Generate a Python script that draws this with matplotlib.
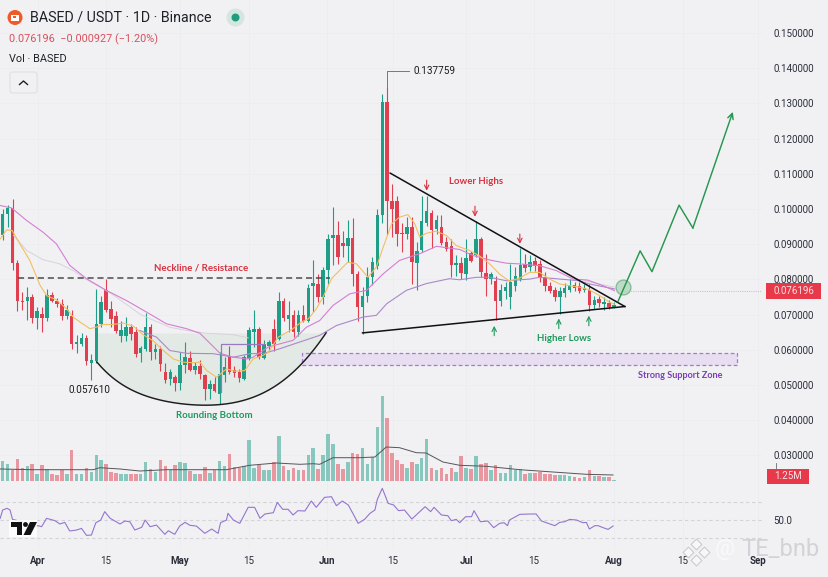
import numpy as np
import matplotlib
matplotlib.use("Agg")
import matplotlib.pyplot as plt
from matplotlib.patches import Rectangle, Circle, FancyBboxPatch, Polygon

plt.rcParams['font.family'] = ['Roboto', 'DejaVu Sans']

# daily candles (index 0 is the first candle on the left)
highs = [.1000,.1010,.1029,.0854,.0764,.0778,.0759,.0723,.0723,.0773,
         .0764,.0748,.0745,.0726,.0712,.0643,.0647,.0643,.0589,.0773,
         .0754,.0802,.0740,.0710,.0683,.0693,.0674,.0664,.0612,.0704,
         .0672,.0617,.0612,.0562,.0546,.0527,.0593,.0622,.0596,.0565,
         .0570,.0532,.0513,.0522,.0593,.0579,.0612,.0555,.0546,.0584,
         .0664,.0712,.0664,.0627,.0628,.0688,.0764,.0748,.0738,.0712,
         .0712,.0726,.0786,.0854,.0816,.0835,.0930,.1007,.0966,.0937,
         .0969,.0975,.0823,.0778,.0835,.0863,.1001,.1327,.1346,.1070,
         .1038,.0960,.0977,.0977,.0906,.1038,.1038,.0998,.0984,.0984,
         .0920,.0915,.0868,.0865,.0915,.0882,.0967,.0920,.0872,.0820,
         .0811,.0787,.0792,.0844,.0834,.0889,.0872,.0868,.0865,.0855,
         .0820,.0792,.0778,.0778,.0789,.0801,.0792,.0792,.0787,.0787,
         .0754,.0754,.0751,.0742,.0735]
lows = [.0911,.0948,.0827,.0710,.0712,.0685,.0676,.0660,.0650,.0683,
        .0735,.0721,.0685,.0688,.0603,.0590,.0612,.0558,.0515,.0562,
        .0664,.0707,.0664,.0647,.0622,.0625,.0628,.0579,.0565,.0598,
        .0570,.0574,.0541,.0505,.0501,.0483,.0486,.0534,.0539,.0532,
        .0518,.0456,.0461,.0480,.0445,.0508,.0532,.0522,.0508,.0513,
        .0570,.0608,.0574,.0573,.0598,.0596,.0627,.0683,.0650,.0636,
        .0638,.0679,.0679,.0707,.0735,.0731,.0788,.0840,.0844,.0863,
        .0849,.0780,.0683,.0645,.0735,.0783,.0830,.0960,.0925,.0920,
        .0896,.0877,.0915,.0788,.0769,.0877,.0953,.0890,.0930,.0899,
        .0882,.0808,.0811,.0801,.0798,.0849,.0865,.0808,.0754,.0787,
        .0685,.0725,.0744,.0716,.0768,.0796,.0820,.0825,.0825,.0792,
        .0768,.0761,.0738,.0702,.0751,.0763,.0768,.0761,.0763,.0711,
        .0716,.0723,.0713,.0716,.0719]
opens = [.0925,.0986,.1003,.0846,.0740,.0738,.0751,.0690,.0702,.0689,
         .0757,.0740,.0731,.0697,.0697,.0617,.0617,.0634,.0562,.0568,
         .0672,.0769,.0716,.0695,.0638,.0638,.0664,.0650,.0590,.0603,
         .0664,.0593,.0603,.0536,.0518,.0522,.0505,.0557,.0577,.0543,
         .0553,.0527,.0489,.0503,.0475,.0527,.0581,.0543,.0536,.0518,
         .0574,.0650,.0660,.0577,.0612,.0660,.0631,.0738,.0688,.0698,
         .0650,.0700,.0683,.0780,.0786,.0750,.0827,.0918,.0925,.0903,
         .0895,.0918,.0816,.0721,.0752,.0806,.0837,.0984,.1304,.1024,
         .1024,.0931,.0928,.0950,.0846,.0884,.0960,.0988,.0944,.0949,
         .0906,.0894,.0841,.0846,.0815,.0874,.0868,.0915,.0817,.0801,
         .0796,.0738,.0766,.0749,.0782,.0801,.0844,.0834,.0851,.0844,
         .0806,.0782,.0770,.0749,.0762,.0770,.0785,.0782,.0770,.0770,
         .0728,.0744,.0730,.0732,.0723]
closes = [.0986,.1003,.0846,.0738,.0736,.0751,.0690,.0710,.0690,.0757,
          .0740,.0729,.0697,.0712,.0617,.0623,.0634,.0568,.0570,.0672,
          .0735,.0712,.0688,.0653,.0655,.0664,.0645,.0589,.0606,.0664,
          .0593,.0603,.0560,.0515,.0536,.0505,.0557,.0579,.0543,.0553,
          .0530,.0489,.0503,.0484,.0530,.0551,.0536,.0534,.0520,.0579,
          .0655,.0660,.0579,.0617,.0622,.0617,.0738,.0691,.0698,.0650,
          .0700,.0683,.0776,.0789,.0750,.0827,.0915,.0925,.0865,.0895,
          .0918,.0816,.0721,.0754,.0806,.0849,.0984,.1304,.1024,.1001,
          .0928,.0928,.0950,.0849,.0882,.0966,.0994,.0939,.0969,.0903,
          .0887,.0842,.0848,.0817,.0861,.0851,.0915,.0820,.0801,.0814,
          .0740,.0770,.0778,.0792,.0811,.0842,.0832,.0849,.0838,.0806,
          .0782,.0768,.0749,.0766,.0776,.0785,.0776,.0768,.0776,.0728,
          .0742,.0732,.0735,.0721,.0728]
volumes = [19.7,16.7,10.7,22.3,13.3,14.7,16.7,7.3,15.7,12.3,
           7.3,5.7,10.7,7.3,31.3,7.3,6.7,13,9,26.3,
           21.3,17.3,9,8,7.3,6.7,7.3,7.3,7.3,19,
           12.3,9,21.3,14.7,10.7,16,19.3,18,9.7,6.7,
           6.7,14,8,11.3,20,14.7,27.3,14,13.3,14.7,
           40.7,13.3,16,11.3,10.7,18.7,45,14.7,11.3,12.7,
           10.7,10.7,25.7,33.3,12,25.7,46.7,37.3,17.3,12.3,
           19,28.3,26.7,33.3,17.3,24,54,85,63.3,28,
           21.3,16.7,13.3,19.3,17.3,23,41.7,13.3,11.3,12.7,
           7.3,12.7,9,25.3,13.3,12,25,16.7,18,10.7,
           16,8,8,16.3,10.7,12.3,7.3,8,8,8.7,
           6.7,6.7,5.7,6.3,5.7,5,4,3.3,4,10.7,
           4.7,4.7,3.7,3.7,1.25]

# moving averages, read at irregular candle positions
fast_x = [-.5,.8,1.9,3.5,5.5,7.6,8.9,10.9,13,14.3,16,17.7,18.9,20.4,22.4,24.5,26.5,28.5,30.5,32.6,34.6,36.6,38.6,40,41.4,43.4,45.4,47.1,49.1,50.8,52.8,53.9,55.9,58.6,60.6,62,63.6,65,66.7,70,71.8,74.1,75.8,77.2,78.9,80.5,82.2,83.6,84.6,85.9,87.9,90,92,94.7,96.6,98.8,100.8,102.8,104.9,106.9,108.9,110.9,113,115,117,119,121.1,123.1,124.1]
fast_y = [.0915,.0941,.0939,.0901,.0854,.0783,.0754,.0742,.0716,.0693,.0676,.0660,.0664,.0672,.0672,.0676,.0667,.0643,.0626,.0598,.0574,.0565,.0563,.0565,.0541,.0522,.0546,.0539,.0541,.0574,.0584,.0593,.0636,.0657,.0679,.0688,.0716,.0750,.0802,.0849,.0844,.0806,.0835,.0892,.0958,.0977,.0984,.0958,.0920,.0931,.0937,.0925,.0896,.0882,.0868,.0844,.0815,.0795,.0804,.0820,.0820,.0801,.0787,.0782,.0778,.0770,.0754,.0735,.0730]
mid_x = [-.5,1.8,4.9,8.2,10.9,13.6,17,21,25.1,29.2,33.2,37.3,40,44.1,46.8,49.5,50.8,53.9,58.9,61.6,64.3,67,70.4,73.8,77.2,80.5,84.6,88,92.7,95.4,98.8,102.2,104.9,108.9,112.3,115.7,118.7,121.8,124.1]
mid_y = [.1010,.1003,.0967,.0934,.0901,.0840,.0802,.0769,.0740,.0707,.0674,.0660,.0647,.0590,.0579,.0574,.0579,.0608,.0627,.0664,.0683,.0726,.0759,.0769,.0816,.0854,.0873,.0894,.0885,.0868,.0855,.0846,.0844,.0839,.0825,.0801,.0798,.0782,.0768]
slow_x = [27.8,31.2,33.9,37.3,42.7,46.8,50.1,53,56,59.6,64.3,67.7,73.1,75.8,77.9,81.9,85.9,90.6,92.7,96.1,98.8,102.2,106.9,108.9,113,117,119,124.1]
slow_y = [.0655,.0636,.0598,.0590,.0589,.0579,.0589,.0590,.0602,.0619,.0641,.0669,.0693,.0698,.0731,.0769,.0788,.0802,.0799,.0806,.0806,.0796,.0801,.0806,.0801,.0796,.0787,.0773]
pale_x = [2.2,4.9,8.2,11.6,14.3,16.7,22,28,33.9,37.3,41.4,46.8,49.8,np.nan,118,124]
pale_y = [.0925,.0882,.0856,.0844,.0825,.0802,.0760,.0700,.0664,.0655,.0647,.0643,.0634,np.nan,.0796,.0778]
vol_ma_x = [-.5,6.2,13,18.4,19.7,23.8,27.8,33.2,40,45.4,50.1,55.5,60.3,63,64.3,67,72.4,75.5,77.8,80.5,83.9,85.9,89.3,92.7,98.1,104.9,111.6,118.4,123.8]
vol_ma_y = [12,11.3,11.3,11.3,13.3,12,10,11.3,11.3,11.3,15.7,18,16.7,17.3,16.7,23.3,23.3,24,34,33.3,28.3,28,19,15.7,14.7,11.3,9,6.7,6]

rsi_x = [-.5,0,.9,1.5,2,4,6,7.2,7.9,8.9,10.6,11.6,12.6,13.6,15,16,17,18,18.9,19.9,20.7,21.8,23.8,24.8,25.8,26.8,28.2,28.9,29.9,31.2,32.9,33.6,34.9,35.9,37,38,39.3,41,42.4,43.7,44.2,45.4,45.7,46.8,48.1,49.8,51.1,52.2,53.2,54.9,55.7,56.8,57.9,58.9,59.9,61.3,62.6,63.6,65.3,66.7,67.7,68.9,70.1,71.1,72.1,73.4,74.5,75.5,76,77,78.2,79.3,80.3,81.5,83,84.6,85.7,86.8,87.5,89,90.3,91,92,92.7,93.9,95.1,95.6,96.9,98.4,99.6,100.8,101.7,102.4,102.8,104.9,107.2,108.2,109.3,112,113,114,115,116.4,117.7,118.4,119,120.1,120.8,121.8,122.8,123.8]
rsi_y = [51.9,61.1,63,61.1,50.7,48,42.6,43.7,42.6,51.9,49.3,45.6,47.4,37.8,38.9,40.7,33,33.3,47,50,59.3,51.9,45.6,48.9,48.1,38.9,41.9,50,42.6,44.4,34.1,38.1,34.1,43.3,47.4,44.1,43.3,35.2,40,35.2,47,50,57.4,50,46.3,64.1,64.1,51.9,56.7,58.1,69.6,61.9,61.9,55.6,60.4,60,71.1,64.1,75.2,75.9,65.9,71.1,66.7,56.7,46.3,50.7,57.4,61.1,73,85.2,68.5,66.7,60.4,61.1,51.1,59.3,64.8,59.3,64.1,55.6,54.8,49.3,50.7,47,53.7,53.7,60.4,48.1,48.9,41.5,46.3,47,43.7,50,56.3,56.7,56.7,48.9,43.7,47.4,48.1,50.7,50,47,47.4,40,43.7,43.7,41.5,39.6,43.3]

# drawings on the chart
arc_x = [19.1,22.8,26.4,31.9,38,44.1,50.2,56.3,61.7,65.6]
arc_y = [.0565,.0517,.0483,.0457,.0446,.0443,.0463,.0506,.0577,.0648]
path_x = [124.8,129.3,131.7,137.2,140,148.1]
path_y = [.0737,.0881,.0822,.1011,.0946,.1276]
red_arrow_x = [86,95.8,104.9]
red_arrow_from = [.1082,.1008,.0929]
red_arrow_to = [.1052,.0978,.0901]
green_arrow_x = [99.7,112.8,118.9]
green_arrow_from = [.0640,.0660,.0668]
green_arrow_to = [.0668,.0689,.0697]

price_ticks = [.03,.04,.05,.06,.07,.08,.09,.10,.11,.12,.13,.14,.15]
date_ticks = [7.17,20.96,35.97,49.9,65.7,79.1,94,107.8,123.9,138,153.2]
date_labels = ['Apr','15','May','15','Jun','15','Jul','15','Aug','15','Sep']

BG = '#f1f1f4'
GRID = '#ecedf0'
UP = '#1f9e87'
DOWN = '#e03f4f'
W, H = 829, 577


def add_axes_px(fig, x0, y0, x1, y1):
    return fig.add_axes([x0 / W, 1 - y1 / H, (x1 - x0) / W, (y1 - y0) / H])


fig = plt.figure(figsize=(W / 100, H / 100), dpi=100, facecolor=BG)

xlim = (-.54, 154.02)
ax = add_axes_px(fig, 0, 0, 762, 485)
ax.set_facecolor(BG)
ax.set_xlim(*xlim)
ax.set_ylim(.02159, .15938)
for s in ax.spines.values():
    s.set_visible(False)
ax.set_xticks(date_ticks)
ax.set_xticklabels([])
ax.yaxis.tick_right()
ax.set_yticks(price_ticks)
ax.set_yticklabels(['%.6f' % t for t in price_ticks], fontsize=7, color='#2a2e39')
ax.tick_params(axis='both', length=0)
ax.tick_params(axis='y', pad=8)
ax.grid(True, color=GRID, lw=.6)
ax.set_axisbelow(True)

idx = np.arange(len(closes))
o = np.array(opens)
c = np.array(closes)
colors = [UP if b >= a else DOWN for a, b in zip(opens, closes)]

# support zone and rounding bottom go under the candles
arc_fit = np.polyfit(arc_x, arc_y, 5)
arc_xs = np.linspace(arc_x[0], arc_x[-1], 120)
arc_ys = np.polyval(arc_fit, arc_xs)
ax.fill_between(arc_xs, arc_ys, arc_y[-1], color='#e3eae5', lw=0, zorder=1)
ax.add_patch(Rectangle((60.7, .0557), 88.25, .0034, fc='#e7def1', ec='#a877d6', lw=.9, ls=(0, (3, 2)), zorder=1))

ax.vlines(idx, lows, highs, colors=colors, lw=.8, zorder=3)
ax.bar(idx, np.abs(c - o), bottom=np.minimum(o, c), width=.72, color=colors, lw=0, zorder=4)

ax.plot(pale_x, pale_y, color='#d8d2da', lw=.7, zorder=5)
ax.plot(slow_x, slow_y, color='#ab88ca', lw=.8, zorder=5)
ax.plot(mid_x, mid_y, color='#d47fd0', lw=.8, zorder=5)
ax.plot(fast_x, fast_y, color='#f2bf5e', lw=.8, zorder=6)

# neckline
ax.plot([3.1, 66.4], [.0803, .0803], color='#4a4a4f', lw=1.1, ls=(0, (4, 2.5)), zorder=6)
note_font = dict(family='Lato', fontweight='bold', ha='center', va='center', zorder=8)
ax.text(40.2, .0832, 'Neckline / Resistance', color='#d8323f', fontsize=7, **note_font)

# rounding bottom
ax.plot(arc_xs, arc_ys, color='#1c1c1f', lw=1.05, zorder=6)
ax.text(42.9, .0412, 'Rounding Bottom', color='#1e9a5c', fontsize=6.9, **note_font)
ax.text(17.7, .0486, '0.057610', color='#1c1c1f', fontsize=7.2, ha='center', va='center', zorder=8)

# small purple box near the bottom of the base
ax.plot([44.3, 44.3, 53], [.0480, .0616, .0616], color='#9a78c4', lw=.9, zorder=5)

# high marker
ax.plot([78, 78, 82.5], [.1346, .1392, .1392], color='#77777c', lw=.7, zorder=7)
ax.text(83.4, .1392, '0.137759', color='#1c1c1f', fontsize=7.2, ha='left', va='center', zorder=8)

# triangle
ax.plot([78.6, 126.2], [.1102, .0723], color='#111114', lw=1.1, zorder=7)
ax.plot([73, 126.2], [.0648, .0723], color='#111114', lw=1.1, zorder=7)

for x, a, b in zip(red_arrow_x, red_arrow_from, red_arrow_to):
    ax.annotate('', xy=(x, b), xytext=(x, a), zorder=8,
                arrowprops=dict(arrowstyle='->', color='#d8323f', lw=.8, mutation_scale=8, shrinkA=0, shrinkB=0))
for x, a, b in zip(green_arrow_x, green_arrow_from, green_arrow_to):
    ax.annotate('', xy=(x, b), xytext=(x, a), zorder=8,
                arrowprops=dict(arrowstyle='->', color='#1e9a5c', lw=.8, mutation_scale=8, shrinkA=0, shrinkB=0))
ax.text(96, .1077, 'Lower Highs', color='#d8323f', fontsize=6.9, **note_font)
ax.text(113.9, .0633, 'Higher Lows', color='#1e9a5c', fontsize=6.9, **note_font)
ax.text(137.4, .0528, 'Strong Support Zone', color='#7b3fb5', fontsize=6.6, **note_font)

# projected path
ax.plot([126, 154.02], [.0767, .0767], color='#eeb4b8', lw=.8, ls=(0, (1, 1)), zorder=2)
ax.scatter([125.9], [.0779], s=115, fc='#a9d2b2', ec='#5aa874', lw=.9, alpha=.7, zorder=7)
ax.plot(path_x[:-1], path_y[:-1], color='#27964f', lw=1.05, zorder=8)
ax.annotate('', xy=(path_x[-1], path_y[-1]), xytext=(path_x[-2], path_y[-2]), zorder=8,
            arrowprops=dict(arrowstyle='->', color='#27964f', lw=1.05, mutation_scale=10, shrinkA=0, shrinkB=0))

# volume pane
ax_vol = add_axes_px(fig, 0, 381, 762, 481)
ax_vol.patch.set_alpha(0)
ax_vol.set_xlim(*xlim)
ax_vol.set_ylim(0, 100)
ax_vol.axis('off')
ax_vol.bar(idx, volumes, width=.72, color=colors, alpha=.5, lw=0)
ax_vol.plot(vol_ma_x, vol_ma_y, color='#55555a', lw=.7)

# rsi pane
ax_rsi = add_axes_px(fig, 0, 485, 762, 550)
ax_rsi.patch.set_alpha(0)
ax_rsi.set_xlim(*xlim)
ax_rsi.set_ylim(16.7, 88.9)
for s in ax_rsi.spines.values():
    s.set_visible(False)
ax_rsi.yaxis.tick_right()
ax_rsi.set_yticks([50])
ax_rsi.set_yticklabels(['50.0'], fontsize=7, color='#2a2e39')
ax_rsi.set_xticks(date_ticks)
ax_rsi.set_xticklabels(date_labels, fontsize=7, color='#2a2e39')
for lab in ax_rsi.get_xticklabels():
    if lab.get_text() != '15':
        lab.set_fontweight('bold')
ax_rsi.tick_params(axis='both', length=0)
ax_rsi.tick_params(axis='y', pad=8)
ax_rsi.tick_params(axis='x', pad=4)
ax_rsi.grid(True, axis='x', color=GRID, lw=.6)
ax_rsi.set_axisbelow(True)
for level in [70, 50, 30]:
    ax_rsi.axhline(level, color='#d3d3d8', lw=.8, ls=(0, (3, 2.5)))
ax_rsi.plot(rsi_x, rsi_y, color='#9575cd', lw=.8)

# header, tags, logo and watermark in pixel space
top = fig.add_axes([0, 0, 1, 1])
top.patch.set_alpha(0)
top.set_xlim(0, W)
top.set_ylim(H, 0)
top.axis('off')

top.add_patch(Circle((15, 17.5), 7.5, fc='#f0592a', ec='none'))
top.add_patch(Rectangle((11, 14.5), 8, 6, fc='white', ec='none'))
top.add_patch(Rectangle((13.5, 16), 3, 2, fc='#f0592a', ec='none'))
top.text(30, 17.8, 'BASED / USDT · 1D · Binance', fontsize=10.3, color='#1f2129', va='center')
top.add_patch(Circle((235.5, 17.5), 9, fc='#d5e6e1', ec='none'))
top.add_patch(Circle((235.5, 17.5), 4, fc='#1f9e7e', ec='none'))
top.text(9, 39, '0.076196  −0.000927 (−1.20%)', fontsize=7.8, color='#d9505c', va='center')
top.text(9, 58.5, 'Vol · BASED', fontsize=7.8, color='#1f2129', va='center')
top.add_patch(FancyBboxPatch((10, 72), 27, 21, boxstyle='round,pad=0,rounding_size=2.5', fc='none', ec='#dfdfe4', lw=.8))
top.plot([19.5, 23.5, 27.5], [84.5, 81, 84.5], color='#1f2129', lw=1)

top.add_patch(Rectangle((766, 283.3), 55.5, 16, fc='#e8394a', ec='none'))
top.text(793.7, 291.5, '0.076196', color='#f6e4e6', fontsize=7, ha='center', va='center')
top.plot([775.6, 775.6], [463, 468], color='#6a6a70', lw=.6)
top.add_patch(Rectangle((767, 468.5), 42.5, 15, fc='#e8394a', ec='none'))
top.text(788.2, 476.2, '1.25M', color='#f6e4e6', fontsize=7, ha='center', va='center')

# tradingview logo with its white halo
top.add_patch(Rectangle((9.5, 520), 28, 17, fc='white', ec='none', alpha=.85))
top.add_patch(Polygon([(11, 522), (22.5, 522), (22.5, 535), (17, 535), (17, 527), (11, 527)], fc='#111114', ec='none'))
top.add_patch(Circle((25.5, 524.5), 2.4, fc='#111114', ec='none'))
top.add_patch(Polygon([(30, 522), (37, 522), (30.5, 535), (23.5, 535)], fc='#111114', ec='none'))

# watermark
for dx, dy in [(0, -8), (-8, 0), (8, 0), (0, 8)]:
    top.scatter([696 + dx], [552 + dy], s=30, marker='D', fc='#f7f7f9', ec='#c6c6cc', lw=.7, zorder=5)
top.text(725, 549.5, '@', color='#f9f9fb', fontsize=16, ha='center', va='center', zorder=5)
top.text(781, 549.5, 'TE_bnb', color='#cfcfd5', fontsize=17, ha='center', va='center', alpha=.9, zorder=5)

fig.savefig('out.png', dpi=100, facecolor=BG)
